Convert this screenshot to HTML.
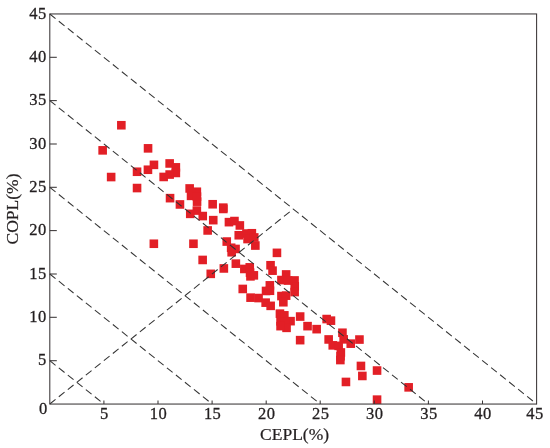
<!DOCTYPE html><html><head><meta charset="utf-8"><title>COPL vs CEPL</title>
<style>html,body{margin:0;padding:0;background:#fff}svg{display:block}text{font-family:"Liberation Serif","DejaVu Serif",serif;fill:#231f20}</style></head><body>
<svg width="550" height="448" viewBox="0 0 550 448">
<rect width="550" height="448" fill="#fff"/>
<g fill="#e21f26">
<rect x="117.05" y="120.95" width="8.6" height="8.6"/>
<rect x="98.35" y="146.05" width="8.6" height="8.6"/>
<rect x="143.75" y="144.05" width="8.6" height="8.6"/>
<rect x="106.85" y="172.75" width="8.6" height="8.6"/>
<rect x="132.75" y="167.45" width="8.6" height="8.6"/>
<rect x="132.75" y="183.75" width="8.6" height="8.6"/>
<rect x="143.65" y="165.45" width="8.6" height="8.6"/>
<rect x="149.65" y="160.55" width="8.6" height="8.6"/>
<rect x="165.35" y="159.15" width="8.6" height="8.6"/>
<rect x="171.55" y="163.05" width="8.6" height="8.6"/>
<rect x="171.55" y="168.65" width="8.6" height="8.6"/>
<rect x="165.35" y="170.25" width="8.6" height="8.6"/>
<rect x="159.35" y="172.65" width="8.6" height="8.6"/>
<rect x="185.35" y="184.15" width="8.6" height="8.6"/>
<rect x="192.55" y="187.45" width="8.6" height="8.6"/>
<rect x="186.75" y="191.55" width="8.6" height="8.6"/>
<rect x="192.75" y="197.35" width="8.6" height="8.6"/>
<rect x="192.65" y="192.35" width="8.6" height="8.6"/>
<rect x="165.75" y="193.85" width="8.6" height="8.6"/>
<rect x="175.65" y="200.15" width="8.6" height="8.6"/>
<rect x="192.55" y="206.25" width="8.6" height="8.6"/>
<rect x="185.95" y="209.55" width="8.6" height="8.6"/>
<rect x="198.45" y="211.75" width="8.6" height="8.6"/>
<rect x="208.35" y="199.95" width="8.6" height="8.6"/>
<rect x="218.95" y="203.35" width="8.6" height="8.6"/>
<rect x="219.05" y="204.65" width="8.6" height="8.6"/>
<rect x="208.95" y="215.85" width="8.6" height="8.6"/>
<rect x="224.65" y="217.85" width="8.6" height="8.6"/>
<rect x="230.15" y="216.75" width="8.6" height="8.6"/>
<rect x="235.55" y="221.15" width="8.6" height="8.6"/>
<rect x="203.35" y="226.15" width="8.6" height="8.6"/>
<rect x="234.45" y="230.95" width="8.6" height="8.6"/>
<rect x="242.15" y="229.25" width="8.6" height="8.6"/>
<rect x="247.55" y="228.95" width="8.6" height="8.6"/>
<rect x="243.25" y="234.75" width="8.6" height="8.6"/>
<rect x="249.95" y="233.15" width="8.6" height="8.6"/>
<rect x="251.05" y="241.25" width="8.6" height="8.6"/>
<rect x="222.45" y="237.25" width="8.6" height="8.6"/>
<rect x="226.85" y="243.45" width="8.6" height="8.6"/>
<rect x="231.25" y="244.65" width="8.6" height="8.6"/>
<rect x="227.35" y="247.95" width="8.6" height="8.6"/>
<rect x="272.65" y="248.55" width="8.6" height="8.6"/>
<rect x="198.35" y="255.65" width="8.6" height="8.6"/>
<rect x="206.45" y="269.55" width="8.6" height="8.6"/>
<rect x="219.55" y="264.15" width="8.6" height="8.6"/>
<rect x="231.55" y="259.35" width="8.6" height="8.6"/>
<rect x="240.05" y="264.65" width="8.6" height="8.6"/>
<rect x="245.45" y="263.05" width="8.6" height="8.6"/>
<rect x="246.15" y="272.05" width="8.6" height="8.6"/>
<rect x="245.75" y="268.35" width="8.6" height="8.6"/>
<rect x="249.55" y="271.05" width="8.6" height="8.6"/>
<rect x="238.45" y="284.65" width="8.6" height="8.6"/>
<rect x="246.25" y="293.35" width="8.6" height="8.6"/>
<rect x="254.25" y="293.75" width="8.6" height="8.6"/>
<rect x="266.25" y="260.95" width="8.6" height="8.6"/>
<rect x="268.25" y="266.35" width="8.6" height="8.6"/>
<rect x="281.85" y="270.15" width="8.6" height="8.6"/>
<rect x="277.15" y="275.75" width="8.6" height="8.6"/>
<rect x="290.25" y="276.15" width="8.6" height="8.6"/>
<rect x="290.45" y="282.05" width="8.6" height="8.6"/>
<rect x="290.35" y="287.75" width="8.6" height="8.6"/>
<rect x="283.75" y="276.25" width="8.6" height="8.6"/>
<rect x="277.15" y="291.75" width="8.6" height="8.6"/>
<rect x="281.85" y="291.35" width="8.6" height="8.6"/>
<rect x="279.05" y="297.95" width="8.6" height="8.6"/>
<rect x="265.55" y="281.05" width="8.6" height="8.6"/>
<rect x="261.75" y="286.65" width="8.6" height="8.6"/>
<rect x="265.65" y="286.45" width="8.6" height="8.6"/>
<rect x="261.35" y="298.35" width="8.6" height="8.6"/>
<rect x="266.35" y="301.55" width="8.6" height="8.6"/>
<rect x="275.65" y="309.35" width="8.6" height="8.6"/>
<rect x="280.05" y="311.05" width="8.6" height="8.6"/>
<rect x="276.25" y="317.05" width="8.6" height="8.6"/>
<rect x="286.25" y="316.85" width="8.6" height="8.6"/>
<rect x="280.45" y="317.35" width="8.6" height="8.6"/>
<rect x="282.25" y="323.55" width="8.6" height="8.6"/>
<rect x="276.25" y="321.85" width="8.6" height="8.6"/>
<rect x="295.85" y="312.25" width="8.6" height="8.6"/>
<rect x="303.25" y="321.85" width="8.6" height="8.6"/>
<rect x="312.35" y="324.85" width="8.6" height="8.6"/>
<rect x="295.85" y="335.85" width="8.6" height="8.6"/>
<rect x="322.35" y="314.75" width="8.6" height="8.6"/>
<rect x="326.65" y="316.35" width="8.6" height="8.6"/>
<rect x="338.15" y="328.45" width="8.6" height="8.6"/>
<rect x="324.35" y="335.15" width="8.6" height="8.6"/>
<rect x="339.35" y="335.05" width="8.6" height="8.6"/>
<rect x="355.15" y="335.25" width="8.6" height="8.6"/>
<rect x="346.45" y="339.35" width="8.6" height="8.6"/>
<rect x="328.45" y="341.05" width="8.6" height="8.6"/>
<rect x="334.35" y="341.55" width="8.6" height="8.6"/>
<rect x="336.55" y="348.15" width="8.6" height="8.6"/>
<rect x="336.25" y="351.95" width="8.6" height="8.6"/>
<rect x="336.05" y="355.75" width="8.6" height="8.6"/>
<rect x="356.65" y="361.65" width="8.6" height="8.6"/>
<rect x="372.75" y="366.25" width="8.6" height="8.6"/>
<rect x="358.05" y="371.65" width="8.6" height="8.6"/>
<rect x="341.65" y="377.65" width="8.6" height="8.6"/>
<rect x="404.35" y="383.05" width="8.6" height="8.6"/>
<rect x="372.75" y="395.35" width="8.6" height="8.6"/>
<rect x="149.55" y="239.45" width="8.6" height="8.6"/>
<rect x="189.15" y="239.45" width="8.6" height="8.6"/>
</g>
<g stroke="#333" stroke-width="1.05" fill="none">
<line x1="49.8" y1="14.0" x2="536.6" y2="404.0" stroke-dasharray="7.35 4.19" stroke-dashoffset="0"/>
<line x1="49.8" y1="100.6" x2="428.4" y2="404.0" stroke-dasharray="7.35 4.19" stroke-dashoffset="0"/>
<line x1="49.8" y1="187.3" x2="320.2" y2="404.0" stroke-dasharray="7.35 4.19" stroke-dashoffset="0"/>
<line x1="49.8" y1="274.0" x2="212.1" y2="404.0" stroke-dasharray="7.35 4.19" stroke-dashoffset="0"/>
<line x1="49.8" y1="360.7" x2="103.9" y2="404.0" stroke-dasharray="7.35 4.19" stroke-dashoffset="0"/>
<line x1="49.8" y1="404.0" x2="293.2" y2="209.0" stroke-dasharray="7.35 4.19"/>
</g>
<g stroke="#3a3637" stroke-width="1.05" fill="none"><rect x="49.8" y="13.95" width="486.8" height="390.1"/>
<line x1="49.8" y1="360.7" x2="56.8" y2="360.7"/>
<line x1="103.9" y1="404.0" x2="103.9" y2="400.5"/>
<line x1="49.8" y1="317.3" x2="56.8" y2="317.3"/>
<line x1="158.0" y1="404.0" x2="158.0" y2="400.5"/>
<line x1="49.8" y1="274.0" x2="56.8" y2="274.0"/>
<line x1="212.1" y1="404.0" x2="212.1" y2="400.5"/>
<line x1="49.8" y1="230.6" x2="56.8" y2="230.6"/>
<line x1="266.2" y1="404.0" x2="266.2" y2="400.5"/>
<line x1="49.8" y1="187.3" x2="56.8" y2="187.3"/>
<line x1="320.2" y1="404.0" x2="320.2" y2="400.5"/>
<line x1="49.8" y1="144.0" x2="56.8" y2="144.0"/>
<line x1="374.3" y1="404.0" x2="374.3" y2="400.5"/>
<line x1="49.8" y1="100.6" x2="56.8" y2="100.6"/>
<line x1="428.4" y1="404.0" x2="428.4" y2="400.5"/>
<line x1="49.8" y1="57.3" x2="56.8" y2="57.3"/>
<line x1="482.5" y1="404.0" x2="482.5" y2="400.5"/>
</g>
<g font-size="16.5" letter-spacing="0.45" stroke="#231f20" stroke-width="0.3">
<text x="46.599999999999994" y="365.3" text-anchor="end">5</text>
<text x="104.4" y="419.2" text-anchor="middle">5</text>
<text x="46.599999999999994" y="321.9" text-anchor="end">10</text>
<text x="158.5" y="419.2" text-anchor="middle">10</text>
<text x="46.599999999999994" y="278.6" text-anchor="end">15</text>
<text x="212.6" y="419.2" text-anchor="middle">15</text>
<text x="46.599999999999994" y="235.2" text-anchor="end">20</text>
<text x="266.7" y="419.2" text-anchor="middle">20</text>
<text x="46.599999999999994" y="191.9" text-anchor="end">25</text>
<text x="320.7" y="419.2" text-anchor="middle">25</text>
<text x="46.599999999999994" y="148.6" text-anchor="end">30</text>
<text x="374.8" y="419.2" text-anchor="middle">30</text>
<text x="46.599999999999994" y="105.2" text-anchor="end">35</text>
<text x="428.9" y="419.2" text-anchor="middle">35</text>
<text x="46.599999999999994" y="61.9" text-anchor="end">40</text>
<text x="483.0" y="419.2" text-anchor="middle">40</text>
<text x="46.599999999999994" y="18.6" text-anchor="end">45</text>
<text x="535.0" y="419.2" text-anchor="middle">45</text>
<text x="47.7" y="414.0" text-anchor="end">0</text>
</g>
<g font-size="17.5" stroke="#231f20" stroke-width="0.22">
<text x="294.6" y="439.8" text-anchor="middle">CEPL(%)</text>
<text transform="translate(18.2,209.0) rotate(-90)" text-anchor="middle">COPL(%)</text>
</g>
</svg></body></html>
